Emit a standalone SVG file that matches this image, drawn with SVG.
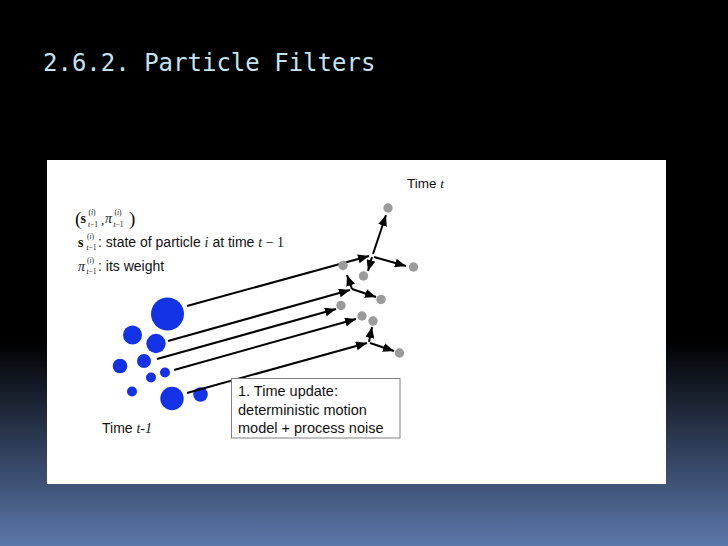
<svg xmlns="http://www.w3.org/2000/svg" width="728" height="546" viewBox="0 0 728 546">
<defs>
<linearGradient id="bg" x1="0" y1="0" x2="0" y2="1">
<stop offset="0" stop-color="#000"/>
<stop offset="0.623" stop-color="#000"/>
<stop offset="1" stop-color="#5b77aa"/>
</linearGradient>
<marker id="ah" markerUnits="userSpaceOnUse" markerWidth="11" markerHeight="9" refX="11" refY="4.5" orient="auto">
<path d="M0,0 L11,4.5 L0,9 z" fill="#000"/>
</marker>
<style>
.ar{font-family:"Liberation Sans",Arial,sans-serif;fill:#111}
.se{font-family:"Liberation Serif","Times New Roman",serif;fill:#111}
.it{font-style:italic}
.bl{fill:#1533e6}
.gr{fill:#9b9b9b}
.cn{stroke:#000;stroke-width:2;fill:none}
.ar2{stroke:#000;stroke-width:2;fill:none;marker-end:url(#ah)}
</style>
</defs>
<rect x="0" y="0" width="728" height="546" fill="url(#bg)"/>
<text x="43" y="71" font-family="DejaVu Sans Mono,monospace" font-size="24" fill="#c5e3f0">2.6.2. Particle Filters</text>
<rect x="47" y="160" width="619" height="324" fill="#fff"/>

<g id="legend">
<text class="se" x="75" y="225" font-size="19">(</text>
<text class="se" x="80.5" y="223" font-size="14" font-weight="bold">s</text>
<text class="se" x="88.5" y="215" font-size="7.5">(<tspan class="it">i</tspan>)</text>
<text class="se" x="88" y="226.5" font-size="7.5"><tspan class="it">t</tspan>−1</text>
<text class="se" x="101" y="224" font-size="13">,</text>
<text class="se it" x="105" y="223" font-size="14">π</text>
<text class="se" x="114.5" y="215" font-size="7.5">(<tspan class="it">i</tspan>)</text>
<text class="se" x="113.5" y="226.5" font-size="7.5"><tspan class="it">t</tspan>−1</text>
<text class="se" x="129" y="225" font-size="19">)</text>

<text class="se" x="78" y="247" font-size="14" font-weight="bold">s</text>
<text class="se" x="87" y="239" font-size="7.5">(<tspan class="it">i</tspan>)</text>
<text class="se" x="86.5" y="250" font-size="7.5"><tspan class="it">t</tspan>−1</text>
<text class="ar" x="98" y="247" font-size="14">: state of particle <tspan class="se it">i</tspan> at time <tspan class="se it">t</tspan><tspan class="se"> − 1</tspan></text>

<text class="se it" x="78" y="271" font-size="14">π</text>
<text class="se" x="87" y="263" font-size="7.5">(<tspan class="it">i</tspan>)</text>
<text class="se" x="86.5" y="274" font-size="7.5"><tspan class="it">t</tspan>−1</text>
<text class="ar" x="98" y="271" font-size="14">: its weight</text>
</g>

<g id="label-time-t">
<text class="ar" x="407" y="188" font-size="13.5">Time <tspan class="se it">t</tspan></text>
</g>
<g id="label-time-t-1">
<text class="ar" x="102" y="433" font-size="14">Time <tspan class="se it">t-1</tspan></text>
</g>

<g id="particles-prev">
<circle class="bl" cx="167.5" cy="314" r="16.5"/>
<circle class="bl" cx="132.5" cy="335" r="9.5"/>
<circle class="bl" cx="156" cy="343.5" r="9.7"/>
<circle class="bl" cx="120" cy="366" r="7.3"/>
<circle class="bl" cx="144" cy="361" r="7"/>
<circle class="bl" cx="151" cy="377.5" r="5"/>
<circle class="bl" cx="165" cy="372.5" r="5"/>
<circle class="bl" cx="132" cy="391.5" r="5"/>
<circle class="bl" cx="172" cy="398.5" r="11.7"/>
<circle class="bl" cx="200.5" cy="394.5" r="7.3"/>
</g>

<g id="connectors">
<line class="ar2" x1="187" y1="306" x2="369" y2="256"/>
<line class="ar2" x1="373" y1="254" x2="386" y2="215"/>
<line class="ar2" x1="372" y1="257" x2="368" y2="271"/>
<line class="ar2" x1="374" y1="257" x2="406" y2="266"/>
<line class="ar2" x1="168" y1="341" x2="350" y2="290"/>
<line class="ar2" x1="352" y1="289" x2="347" y2="275"/>
<line class="ar2" x1="352" y1="289" x2="376" y2="297"/>
<line class="ar2" x1="157" y1="359" x2="336" y2="309"/>
<line class="ar2" x1="174" y1="370" x2="356" y2="319"/>
<line class="ar2" x1="187" y1="393" x2="367" y2="343"/>
<line class="ar2" x1="369" y1="342" x2="372" y2="327"/>
<line class="ar2" x1="370" y1="343" x2="394" y2="351"/>
</g>

<g id="particles-next">
<circle class="gr" cx="388" cy="208" r="4.7"/>
<circle class="gr" cx="343" cy="265.5" r="4.7"/>
<circle class="gr" cx="363.5" cy="276" r="4.7"/>
<circle class="gr" cx="413.5" cy="267" r="4.7"/>
<circle class="gr" cx="381" cy="299.5" r="4.7"/>
<circle class="gr" cx="341" cy="305.5" r="4.7"/>
<circle class="gr" cx="362" cy="316" r="4.7"/>
<circle class="gr" cx="373" cy="321" r="4.7"/>
<circle class="gr" cx="399.5" cy="353" r="4.7"/>
</g>

<g id="note">
<rect x="231.5" y="378.5" width="168.5" height="59.5" fill="#fff" stroke="#808080" stroke-width="1"/>
<text class="ar" x="238" y="396" font-size="14.5">1. Time update:</text>
<text class="ar" x="238" y="414.5" font-size="14.5">deterministic motion</text>
<text class="ar" x="238" y="433" font-size="14.5">model + process noise</text>
</g>
</svg>
